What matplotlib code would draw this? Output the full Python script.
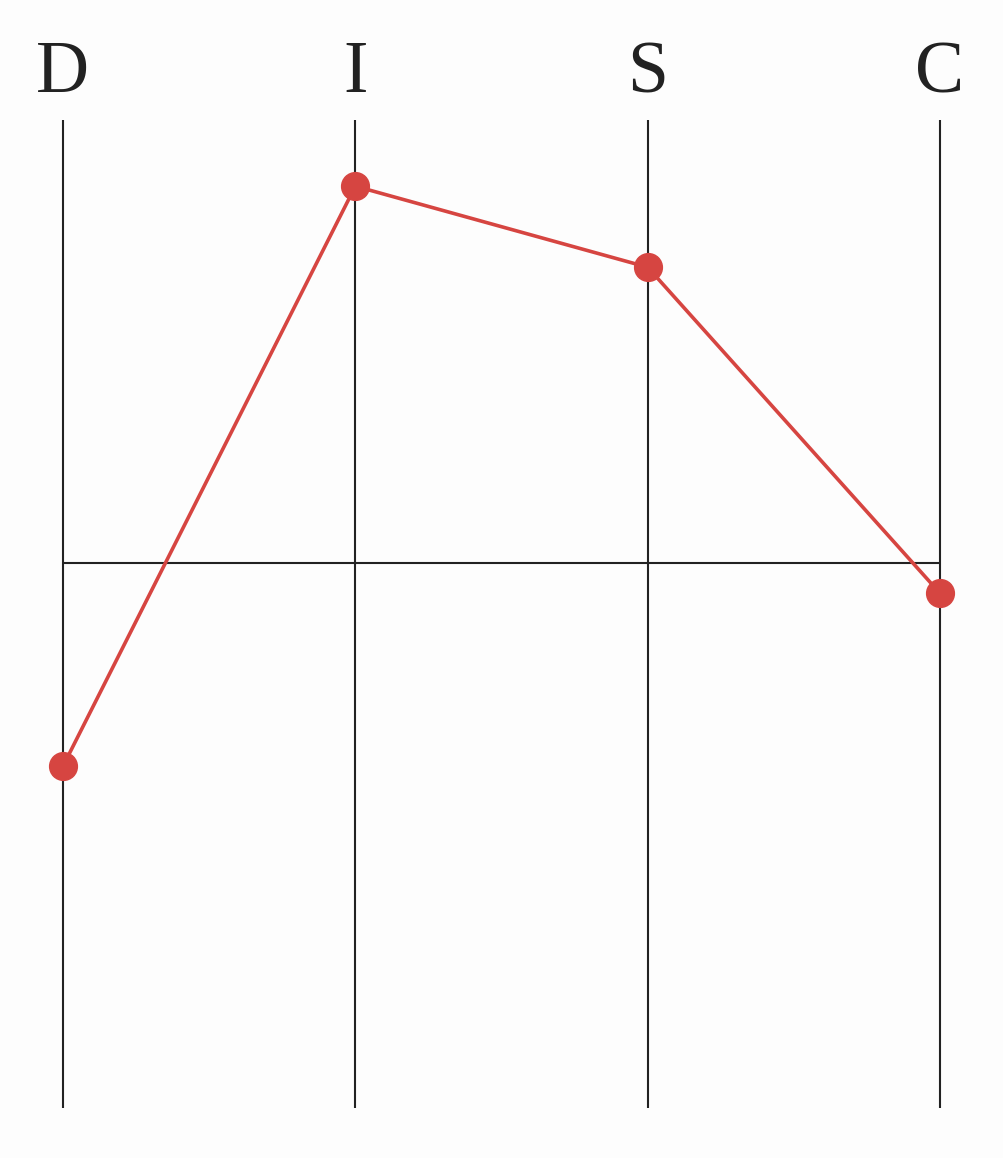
import matplotlib
matplotlib.use("Agg")
import matplotlib.pyplot as plt

# Data
categories = ["D", "I", "S", "C"]
scores = [34.6, 93.3, 85.1, 52.1]   # 0-100 scale
midline = 55.2
scale_min, scale_max = 0, 100

fig = plt.figure(figsize=(10.04, 11.58), dpi=100)
fig.patch.set_facecolor("#fdfdfd")
W, H = 1004, 1158
left, right = 63 / W, 940 / W
bottom, top = (H - 1108) / H, (H - 120) / H
ax = fig.add_axes([left, bottom, right - left, top - bottom])
ax.set_facecolor("none")

x = list(range(len(categories)))
ax.set_xlim(x[0], x[-1])
ax.set_ylim(scale_min, scale_max)
ax.axis("off")

line_color = "#222222"
ax.vlines(x, scale_min, scale_max, color=line_color, lw=1.5, clip_on=False)
ax.hlines(midline, x[0], x[-1], color=line_color, lw=1.5, clip_on=False)

red = "#d64541"
ax.plot(x, scores, color=red, lw=2.6, marker="o", markersize=20,
        markerfacecolor=red, markeredgecolor=red, clip_on=False, zorder=5)

for xi, lab in zip(x, categories):
    ax.annotate(lab, xy=(xi, scale_max), xytext=(0, 20), textcoords="offset points",
                ha="center", va="baseline", fontsize=53,
                family=["Liberation Serif", "DejaVu Serif"], color="#222222")

fig.savefig("out.png", dpi=100, facecolor=fig.get_facecolor())
